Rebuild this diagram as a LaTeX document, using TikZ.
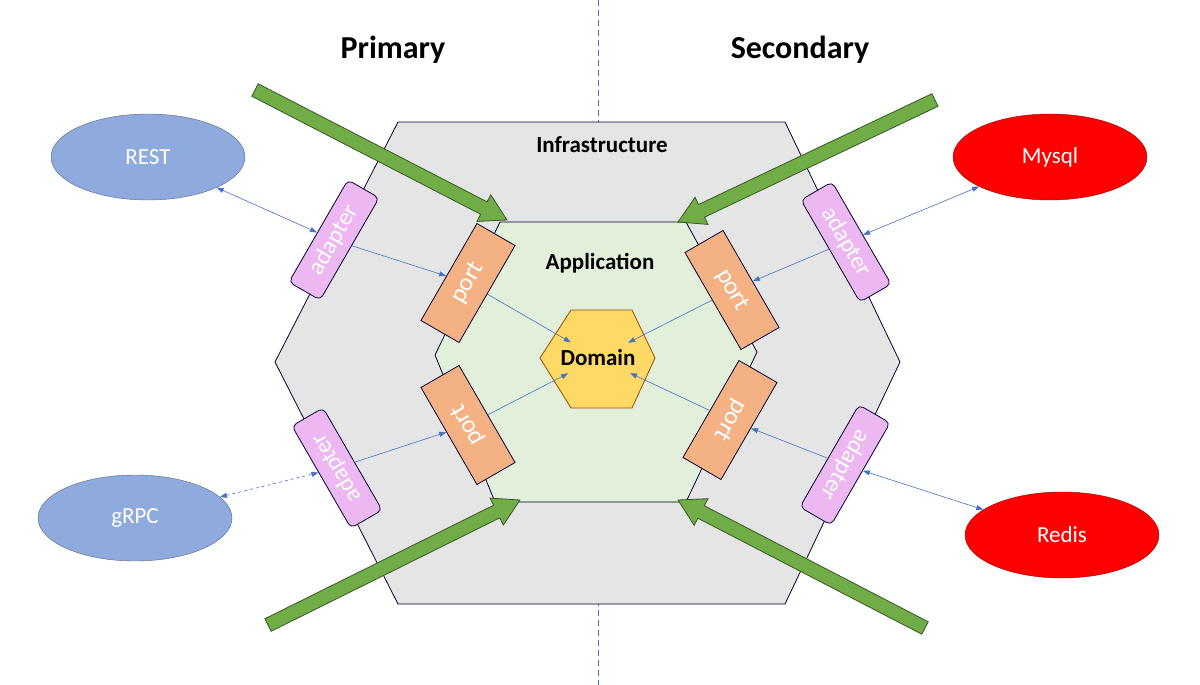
\documentclass[tikz,border=0pt]{standalone}
\usepackage{fontspec}
\setmainfont{Carlito}
\usetikzlibrary{calc,arrows.meta,shapes.geometric}
\definecolor{blu}{HTML}{4472C4}
\definecolor{lblu}{HTML}{8FAADC}
\definecolor{gfill}{HTML}{70AD47}
\definecolor{gline}{HTML}{385723}
\definecolor{appf}{HTML}{E2EFDA}
\definecolor{portf}{HTML}{F4B183}
\definecolor{adf}{HTML}{EDB7F2}
\definecolor{domf}{HTML}{FFD966}
\tikzset{
 ell/.style={ellipse,draw=#1!60!black,fill=#1,minimum width=194pt,minimum height=86pt,text=white,font=\fontsize{23}{23}\selectfont},
 adapter/.style={draw=black!80!blue,fill=adf,rounded corners=5pt,minimum width=118pt,minimum height=36pt,text=white,font=\fontsize{24}{24}\selectfont,thick},
 port/.style={draw=black!80!blue,fill=portf,minimum width=112pt,minimum height=44pt,text=white,font=\fontsize{25}{25}\selectfont,thick},
 con/.style={blu,line width=0.6pt,-{Triangle[length=7pt,width=5pt]}},
 dcon/.style={blu,line width=0.6pt,{Triangle[length=7pt,width=5pt]}-{Triangle[length=7pt,width=5pt]}},
 lbl/.style={font=\bfseries\fontsize{23}{23}\selectfont},
 title/.style={font=\bfseries\fontsize{32}{32}\selectfont},
}
\newcommand{\bigarrow}[2]{%
 \path let \p1=($(#2)-(#1)$), \n1={atan2(\y1,\x1)}, \n2={veclen(\x1,\y1)} in
 [draw=gline,fill=gfill,line width=0.8pt,shift={(#1)},rotate=\n1]
 (0,-7)--({\n2-26},-7)--({\n2-26},-15)--(\n2,0)--({\n2-26},15)--({\n2-26},7)--(0,7)--cycle;}
\begin{document}
\begin{tikzpicture}[x=1pt,y=-1pt]
\useasboundingbox (0,0) rectangle (1200,685);
\draw[blu,dash pattern=on 6pt off 4pt,line width=0.8pt] (598,0)--(598,685);
\draw[fill=black!10,draw=black!80!blue,line width=0.8pt] (398,122)--(785,122)--(900,362)--(785,604)--(398,604)--(275,362)--cycle;
\draw[fill=appf,draw=black!80!blue,line width=0.8pt] (500,222)--(686,222)--(757,352)--(686,502)--(495,502)--(435,355)--cycle;
\draw[draw=orange!60!black,fill=domf,line width=0.8pt] (571,310)--(632,310)--(655,358)--(632,408)--(571,408)--(540,358)--cycle;
\node[lbl] (domain) at (598,358) {Domain};
\node[title] (prim) at (393,50) {Primary};
\node[title] (sec) at (800,50) {Secondary};
\node[lbl] (infra) at (602,145) {Infrastructure};
\node[lbl] (app) at (600,263) {Application};
\node[ell=lblu] (rest) at (148,157) {REST};
\node[ell=lblu] (grpc) at (135,518) {gRPC};
\node[ell=red] (mysql) at (1050,157) {Mysql};
\node[ell=red] (redis) at (1062,535) {Redis};
\node[adapter,rotate=60] (a1) at (334,240) {adapter};
\node[adapter,rotate=120] (a2) at (337,468) {adapter};
\node[adapter,rotate=-60] (a3) at (846,242) {adapter};
\node[adapter,rotate=-120] (a4) at (845,465) {adapter};
\node[port,rotate=60] (p1) at (468,283) {port};
\node[port,rotate=120] (p2) at (468,425) {port};
\node[port,rotate=-60] (p3) at (732,290) {port};
\node[port,rotate=-120] (p4) at (730,420) {port};
\draw[dcon] (rest) -- (a1);
\draw[dcon,dashed] (grpc) -- (a2);
\draw[dcon] (mysql) -- (a3);
\draw[dcon] (redis) -- (a4);
\draw[con] (a1) -- (p1);
\draw[con] (a2) -- (p2);
\draw[con] (a3) -- (p3);
\draw[con] (a4) -- (p4);
\draw[con,shorten >=8pt] (p1) -- (domain);
\draw[con,shorten >=8pt] (p2) -- (domain);
\draw[con,shorten >=8pt] (p3) -- (domain);
\draw[con,shorten >=8pt] (p4) -- (domain);
\coordinate (g1a) at (255,90); \coordinate (g1b) at (507,220);
\coordinate (g2a) at (935,100); \coordinate (g2b) at (678,222);
\coordinate (g3a) at (268,625); \coordinate (g3b) at (520,500);
\coordinate (g4a) at (925,628); \coordinate (g4b) at (678,500);
\bigarrow{g1a}{g1b}
\bigarrow{g2a}{g2b}
\bigarrow{g3a}{g3b}
\bigarrow{g4a}{g4b}
\end{tikzpicture}
\end{document}
